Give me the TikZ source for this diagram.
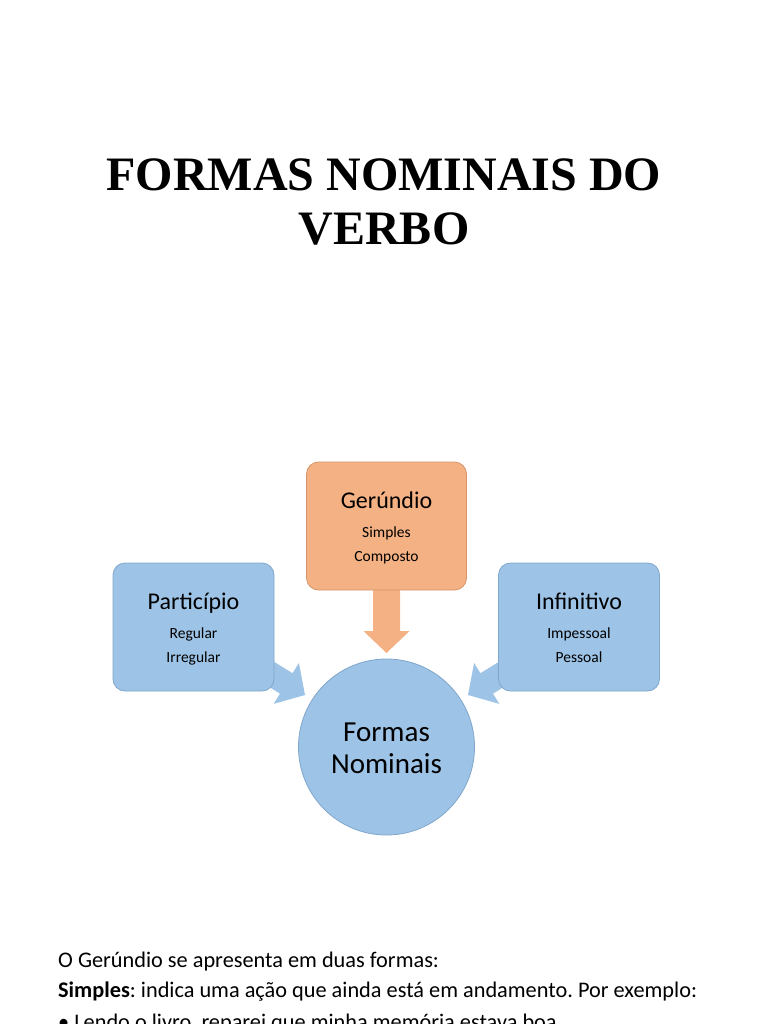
\documentclass[tikz,border=0pt]{standalone}
\usepackage{fontspec}
\setmainfont{Carlito}
\newfontfamily\titlefont{Liberation Serif}[BoldFont={Liberation Serif Bold}]
\usetikzlibrary{calc}
\definecolor{boxblue}{RGB}{157,195,230}
\definecolor{blueline}{RGB}{128,166,204}
\definecolor{boxorange}{RGB}{244,177,131}
\definecolor{orangeline}{RGB}{215,148,104}
\frenchspacing
\begin{document}
\begin{tikzpicture}[x=1pt,y=-1pt,
  bluebox/.style={draw=blueline, fill=boxblue, rounded corners=12pt, minimum width=161pt, minimum height=128pt, line width=0.8pt, inner sep=0pt},
  orangebox/.style={draw=orangeline, fill=boxorange, rounded corners=12pt, minimum width=160pt, minimum height=128pt, line width=0.8pt, inner sep=0pt},
  bigcirc/.style={circle, draw=blueline, fill=boxblue, minimum size=176pt, line width=0.8pt, inner sep=0pt},
  titletext/.style={font=\titlefont\bfseries\fontsize{48}{48}\selectfont, anchor=base, inner sep=0pt},
  headtext/.style={font=\fontsize{24}{24}\selectfont, anchor=base, inner sep=0pt},
  itemtext/.style={font=\fontsize{15.5}{15.5}\selectfont, anchor=base, inner sep=0pt},
  circtext/.style={font=\fontsize{29}{29}\selectfont, anchor=base, inner sep=0pt},
  bodytext/.style={font=\fontsize{22.3}{22.3}\selectfont, anchor=base west, inner sep=0pt},
]
\useasboundingbox (0,0) rectangle (768,1024);
\clip (0,0) rectangle (768,1024);
\fill[white] (0,0) rectangle (768,1024);

% title
\node[titletext] (t1) at (384,191) {FORMAS NOMINAIS DO};
\node[titletext] (t2) at (384,244) {VERBO};

% fat arrows (drawn first, behind the shapes)
% left
\coordinate (ls) at (237,653);
\coordinate (lt) at (305,695);
\coordinate (lb) at ($(lt)!22pt!(ls)$);
\fill[boxblue] ($(ls)!12pt!90:(lt)$) -- ($(lb)!12pt!-90:(ls)$) -- ($(lb)!24pt!-90:(ls)$) -- (lt)
  -- ($(lb)!24pt!90:(ls)$) -- ($(lb)!12pt!90:(ls)$) -- ($(ls)!12pt!-90:(lt)$) -- cycle;
% right
\coordinate (rs) at (536,653);
\coordinate (rt) at (468,695);
\coordinate (rb) at ($(rt)!22pt!(rs)$);
\fill[boxblue] ($(rs)!12pt!90:(rt)$) -- ($(rb)!12pt!-90:(rs)$) -- ($(rb)!24pt!-90:(rs)$) -- (rt)
  -- ($(rb)!24pt!90:(rs)$) -- ($(rb)!12pt!90:(rs)$) -- ($(rs)!12pt!-90:(rt)$) -- cycle;
% down
\coordinate (ds) at (386.5,570);
\coordinate (dt) at (386.5,653);
\coordinate (db) at ($(dt)!22pt!(ds)$);
\fill[boxorange] ($(ds)!13.5pt!90:(dt)$) -- ($(db)!13.5pt!-90:(ds)$) -- ($(db)!23pt!-90:(ds)$) -- (dt)
  -- ($(db)!23pt!90:(ds)$) -- ($(db)!13.5pt!90:(ds)$) -- ($(ds)!13.5pt!-90:(dt)$) -- cycle;

% boxes
\node[orangebox] (ger) at (386.5,526) {};
\node[bluebox] (par) at (193.5,627) {};
\node[bluebox] (inf) at (579,627) {};
\node[bigcirc] (fn) at (386.5,747) {};

% box texts
\node[headtext] (gerh) at (386.5,508) {Gerúndio};
\node[itemtext] (ger1) at (386.5,537) {Simples};
\node[itemtext] (ger2) at (386.5,561) {Composto};

\node[headtext] (parh) at (193.5,609) {Particípio};
\node[itemtext] (par1) at (193.5,638) {Regular};
\node[itemtext] (par2) at (193.5,662) {Irregular};

\node[headtext] (infh) at (579,609) {Infinitivo};
\node[itemtext] (inf1) at (579,638) {Impessoal};
\node[itemtext] (inf2) at (579,662) {Pessoal};

\node[circtext] (fn1) at (386.5,741) {Formas};
\node[circtext] (fn2) at (386.5,773) {Nominais};

% body text
\node[bodytext] (b1) at (58,967) {O Gerúndio se apresenta em duas formas:};
\node[bodytext] (b2) at (58,997) {\textbf{Simples}: indica uma ação que ainda está em andamento. Por exemplo:};
\node[bodytext] (b3) at (58,1029) {• Lendo o livro, reparei que minha memória estava boa.};
\end{tikzpicture}
\end{document}
